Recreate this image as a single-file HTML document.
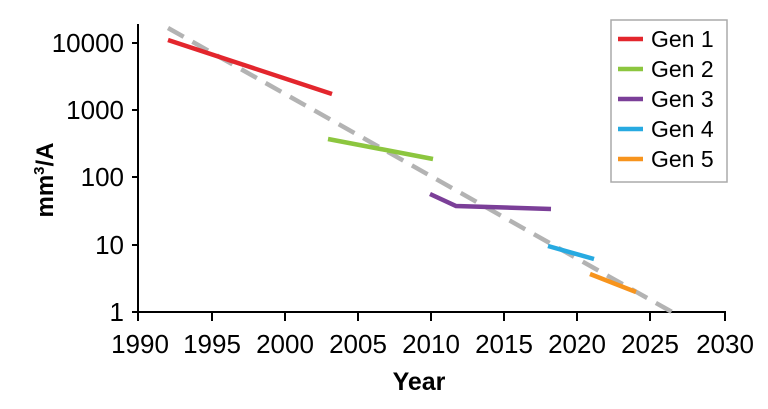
<!DOCTYPE html>
<html><head><meta charset="utf-8"><style>body{margin:0;background:#fff}</style></head><body>
<svg width="768" height="404" xmlns="http://www.w3.org/2000/svg" font-family="Liberation Sans, Arial, sans-serif">
<rect width="768" height="404" fill="#fff"/>
<g stroke="#000" stroke-width="2" fill="none">
<line x1="138" y1="24" x2="138" y2="312"/>
<line x1="138" y1="312" x2="726" y2="312"/>
<line x1="132" y1="43" x2="138" y2="43"/><line x1="132" y1="110" x2="138" y2="110"/><line x1="132" y1="177" x2="138" y2="177"/><line x1="132" y1="245" x2="138" y2="245"/><line x1="132" y1="312" x2="138" y2="312"/>
<line x1="138" y1="312" x2="138" y2="321"/><line x1="212" y1="312" x2="212" y2="321"/><line x1="285" y1="312" x2="285" y2="321"/><line x1="358" y1="312" x2="358" y2="321"/><line x1="431" y1="312" x2="431" y2="321"/><line x1="504" y1="312" x2="504" y2="321"/><line x1="577" y1="312" x2="577" y2="321"/><line x1="650" y1="312" x2="650" y2="321"/><line x1="725" y1="312" x2="725" y2="321"/>
</g>
<g font-size="26" text-anchor="end">
<text x="124" y="52">10000</text><text x="124" y="119">1000</text><text x="124" y="186">100</text><text x="124" y="254">10</text><text x="124" y="321">1</text>
</g>
<g font-size="26" text-anchor="middle">
<text x="140" y="353">1990</text><text x="212" y="353">1995</text><text x="285" y="353">2000</text><text x="358" y="353">2005</text><text x="431" y="353">2010</text><text x="504" y="353">2015</text><text x="577" y="353">2020</text><text x="650" y="353">2025</text><text x="725" y="353">2030</text>
</g>
<text x="419" y="390" font-size="25" font-weight="bold" text-anchor="middle">Year</text>
<text transform="translate(53,180) rotate(-90)" font-size="24" font-weight="bold" text-anchor="middle">mm<tspan font-size="15" dy="-9">3</tspan><tspan dy="9">/A</tspan></text>
<g stroke-width="4.5" fill="none" stroke-linecap="butt">
<line x1="168" y1="28" x2="672" y2="312" stroke="#b3b3b3" stroke-dasharray="18,10"/>
<line x1="168" y1="40" x2="332" y2="94" stroke="#e3262d"/>
<line x1="328" y1="139" x2="433" y2="159" stroke="#8cc63f"/>
<polyline points="430,194 456,206 551,209" stroke="#7b3f98"/>
<line x1="548" y1="246" x2="594" y2="259" stroke="#27aae1"/>
<line x1="590" y1="274" x2="636" y2="292" stroke="#f7941d"/>
</g>
<rect x="611" y="20" width="116" height="162" fill="#fff" stroke="#aaa" stroke-width="1.5"/>
<g stroke-width="4.5">
<line x1="618" y1="39" x2="643" y2="39" stroke="#e3262d"/>
<line x1="618" y1="69" x2="643" y2="69" stroke="#8cc63f"/>
<line x1="618" y1="99" x2="643" y2="99" stroke="#7b3f98"/>
<line x1="618" y1="129" x2="643" y2="129" stroke="#27aae1"/>
<line x1="618" y1="159" x2="643" y2="159" stroke="#f7941d"/>
</g>
<g font-size="23">
<text x="651" y="47">Gen 1</text><text x="651" y="77">Gen 2</text><text x="651" y="107">Gen 3</text><text x="651" y="137">Gen 4</text><text x="651" y="167">Gen 5</text>
</g>
</svg>
</body></html>
